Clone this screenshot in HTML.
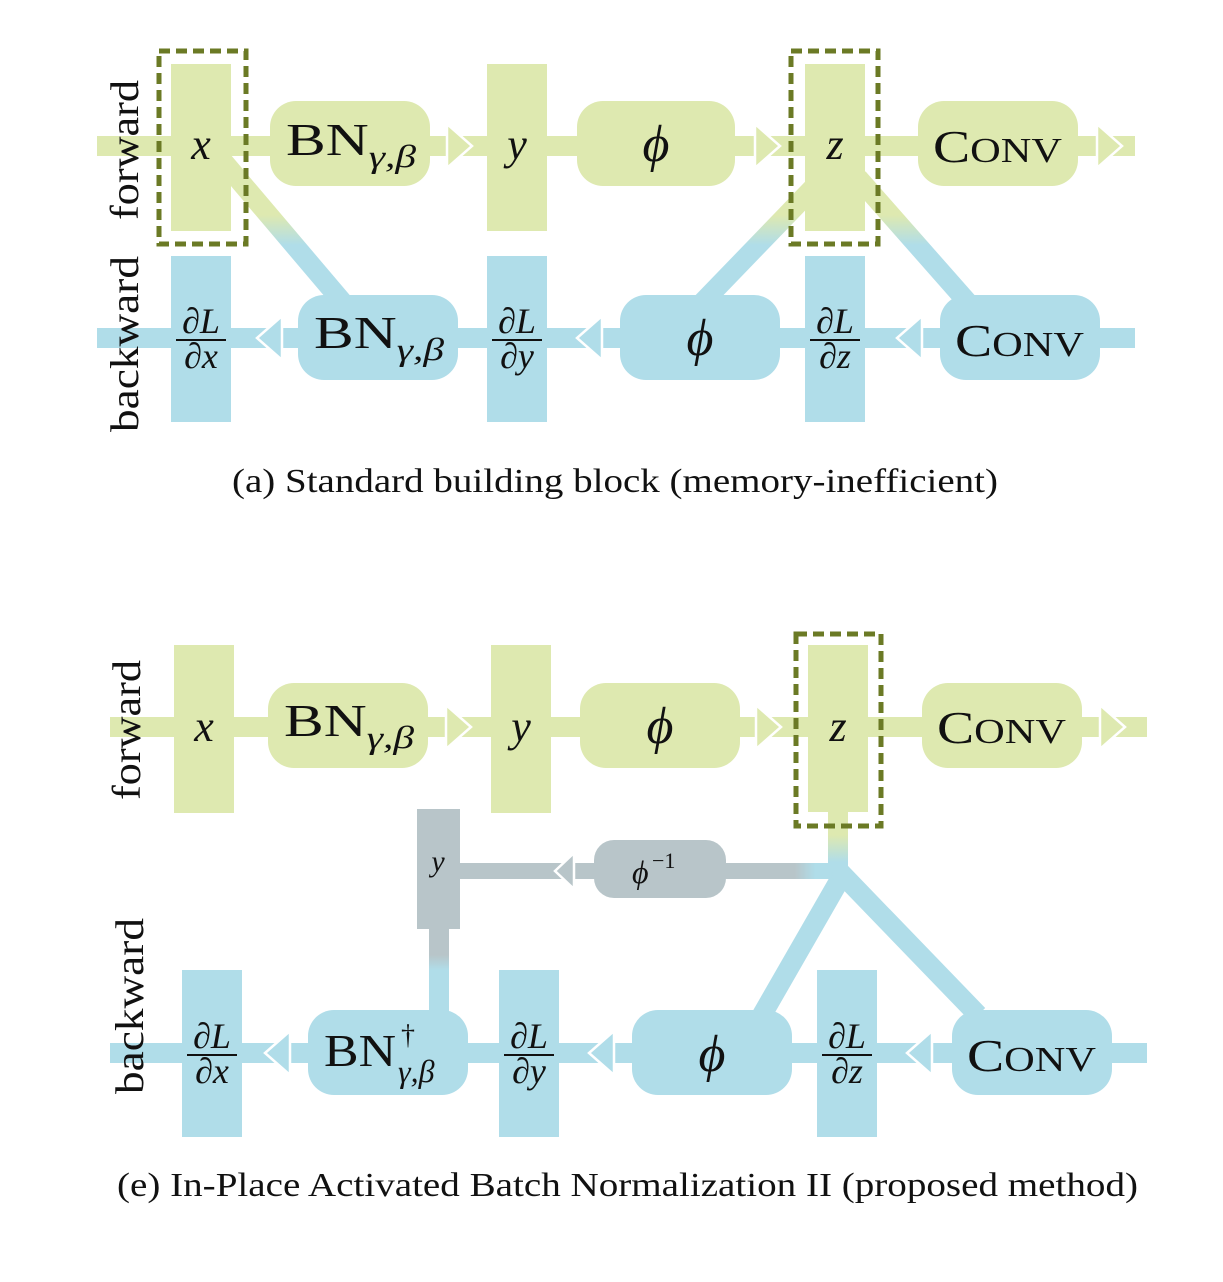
<!DOCTYPE html>
<html><head><meta charset="utf-8"><style>
html,body{margin:0;padding:0;background:#fff}
svg{display:block}
.m{font-family:"Liberation Serif",serif;font-style:italic;fill:#111}
.r{font-family:"Liberation Serif",serif;fill:#111}
</style></head><body>
<svg width="1223" height="1282" viewBox="0 0 1223 1282" xmlns="http://www.w3.org/2000/svg">
<defs>
<linearGradient id="g1" gradientUnits="userSpaceOnUse" x1="0" y1="215" x2="0" y2="245"><stop offset="0" stop-color="#dee9b0"/><stop offset="1" stop-color="#b0dde9"/></linearGradient>
<linearGradient id="g2" gradientUnits="userSpaceOnUse" x1="0" y1="835" x2="0" y2="862"><stop offset="0" stop-color="#dee9b0"/><stop offset="1" stop-color="#b0dde9"/></linearGradient>
<linearGradient id="g3" gradientUnits="userSpaceOnUse" x1="795" y1="0" x2="815" y2="0"><stop offset="0" stop-color="#b8c5c9"/><stop offset="1" stop-color="#b0dde9"/></linearGradient>
<linearGradient id="g4" gradientUnits="userSpaceOnUse" x1="0" y1="955" x2="0" y2="970"><stop offset="0" stop-color="#b8c5c9"/><stop offset="1" stop-color="#b0dde9"/></linearGradient>
</defs>
<g fill="none" stroke-linecap="butt">
<line x1="97" y1="146" x2="1135" y2="146" stroke="#dee9b0" stroke-width="20"/>
<line x1="97" y1="338" x2="1135" y2="338" stroke="#b0dde9" stroke-width="20"/>
<line x1="222" y1="160" x2="345" y2="305" stroke="url(#g1)" stroke-width="20"/>
<line x1="840" y1="160" x2="700" y2="305" stroke="url(#g1)" stroke-width="20"/>
<line x1="858" y1="178" x2="970" y2="305" stroke="url(#g1)" stroke-width="20"/>
<line x1="110" y1="727" x2="1147" y2="727" stroke="#dee9b0" stroke-width="20"/>
<line x1="110" y1="1053" x2="1147" y2="1053" stroke="#b0dde9" stroke-width="20"/>
<line x1="838" y1="812" x2="838" y2="872" stroke="url(#g2)" stroke-width="20"/>
<line x1="440" y1="871" x2="845" y2="871" stroke="url(#g3)" stroke-width="16"/>
<line x1="439" y1="925" x2="439" y2="1015" stroke="url(#g4)" stroke-width="20"/>
<line x1="843" y1="874" x2="762" y2="1015" stroke="#b0dde9" stroke-width="20"/>
<line x1="838" y1="870" x2="978" y2="1015" stroke="#b0dde9" stroke-width="20"/>
</g>
<g fill="#dee9b0">
<rect x="171" y="64" width="60" height="167"/>
<rect x="270" y="101" width="160" height="85" rx="26"/>
<rect x="487" y="64" width="60" height="167"/>
<rect x="577" y="101" width="158" height="85" rx="26"/>
<rect x="805" y="64" width="60" height="167"/>
<rect x="918" y="101" width="160" height="85" rx="26"/>
</g>
<g fill="#dee9b0" stroke="#fff" stroke-width="2.5">
<polygon points="447,124 472,146 447,168"/>
<polygon points="755,124 780,146 755,168"/>
<polygon points="1097,124 1122,146 1097,168"/>
</g>
<g fill="#b0dde9">
<rect x="171" y="256" width="60" height="166"/>
<rect x="298" y="295" width="160" height="85" rx="26"/>
<rect x="487" y="256" width="60" height="166"/>
<rect x="620" y="295" width="160" height="85" rx="26"/>
<rect x="805" y="256" width="60" height="166"/>
<rect x="940" y="295" width="160" height="85" rx="26"/>
</g>
<g fill="#b0dde9" stroke="#fff" stroke-width="2.5">
<polygon points="282,316 257,338 282,360"/>
<polygon points="602,316 577,338 602,360"/>
<polygon points="922,316 897,338 922,360"/>
</g>
<g fill="none" stroke="#6b7a25" stroke-width="5" stroke-dasharray="11,6">
<rect x="159" y="51" width="87" height="193"/>
<rect x="791" y="51" width="87" height="193"/>
</g>
<g fill="#dee9b0">
<rect x="174" y="645" width="60" height="168"/>
<rect x="268" y="683" width="160" height="85" rx="26"/>
<rect x="491" y="645" width="60" height="168"/>
<rect x="580" y="683" width="160" height="85" rx="26"/>
<rect x="808" y="645" width="60" height="167"/>
<rect x="922" y="683" width="160" height="85" rx="26"/>
</g>
<g fill="#dee9b0" stroke="#fff" stroke-width="2.5">
<polygon points="446,705 471,727 446,749"/>
<polygon points="756,705 781,727 756,749"/>
<polygon points="1100,705 1125,727 1100,749"/>
</g>
<g fill="#b8c5c9">
<rect x="417" y="809" width="43" height="120"/>
<rect x="594" y="840" width="132" height="58" rx="20"/>
</g>
<polygon points="574,853 555,871 574,889" fill="#b8c5c9" stroke="#fff" stroke-width="2.5"/>
<g fill="#b0dde9">
<rect x="182" y="970" width="60" height="167"/>
<rect x="308" y="1010" width="160" height="85" rx="26"/>
<rect x="499" y="970" width="60" height="167"/>
<rect x="632" y="1010" width="160" height="85" rx="26"/>
<rect x="817" y="970" width="60" height="167"/>
<rect x="952" y="1010" width="160" height="85" rx="26"/>
</g>
<g fill="#b0dde9" stroke="#fff" stroke-width="2.5">
<polygon points="290,1031 265,1053 290,1075"/>
<polygon points="614,1031 589,1053 614,1075"/>
<polygon points="932,1031 907,1053 932,1075"/>
</g>
<rect x="796" y="634" width="85" height="192" fill="none" stroke="#6b7a25" stroke-width="5" stroke-dasharray="11,6"/>

<text class="r" font-size="40" transform="translate(138,150) rotate(-90)" text-anchor="middle" textLength="140" lengthAdjust="spacingAndGlyphs">forward</text>
<text class="r" font-size="40" transform="translate(138,344) rotate(-90)" text-anchor="middle" textLength="176" lengthAdjust="spacingAndGlyphs">backward</text>
<text class="r" font-size="40" transform="translate(140,730) rotate(-90)" text-anchor="middle" textLength="140" lengthAdjust="spacingAndGlyphs">forward</text>
<text class="r" font-size="40" transform="translate(143,1006) rotate(-90)" text-anchor="middle" textLength="176" lengthAdjust="spacingAndGlyphs">backward</text>

<text class="m" x="201" y="159" font-size="44" text-anchor="middle">x</text>
<text class="r" x="286" y="155" font-size="46" textLength="130" lengthAdjust="spacingAndGlyphs">BN<tspan class="m" font-size="32" dy="12">γ,β</tspan></text>
<text class="m" x="517" y="159" font-size="44" text-anchor="middle">y</text>
<text class="m" x="656" y="161" font-size="52" text-anchor="middle">ϕ</text>
<text class="m" x="835" y="159" font-size="44" text-anchor="middle">z</text>
<text class="r" x="933" y="162" font-size="46" textLength="129" lengthAdjust="spacingAndGlyphs">C<tspan font-size="35">ONV</tspan></text>

<g class="m" font-size="36" text-anchor="middle">
<text x="201" y="333">∂L</text><text x="201" y="368">∂x</text>
<text x="517" y="333">∂L</text><text x="517" y="368">∂y</text>
<text x="835" y="333">∂L</text><text x="835" y="368">∂z</text>
</g>
<g stroke="#111" stroke-width="2"><line x1="176" y1="340" x2="226" y2="340"/><line x1="492" y1="340" x2="542" y2="340"/><line x1="810" y1="340" x2="860" y2="340"/></g>
<text class="r" x="314" y="348" font-size="46" textLength="130" lengthAdjust="spacingAndGlyphs">BN<tspan class="m" font-size="32" dy="12">γ,β</tspan></text>
<text class="m" x="700" y="355" font-size="52" text-anchor="middle">ϕ</text>
<text class="r" x="955" y="356" font-size="46" textLength="129" lengthAdjust="spacingAndGlyphs">C<tspan font-size="35">ONV</tspan></text>

<text class="r" x="232" y="492" font-size="34" textLength="766" lengthAdjust="spacingAndGlyphs">(a)  Standard building block (memory-inefficient)</text>

<text class="m" x="204" y="741" font-size="44" text-anchor="middle">x</text>
<text class="r" x="284" y="736" font-size="46" textLength="130" lengthAdjust="spacingAndGlyphs">BN<tspan class="m" font-size="32" dy="12">γ,β</tspan></text>
<text class="m" x="521" y="741" font-size="44" text-anchor="middle">y</text>
<text class="m" x="660" y="743" font-size="52" text-anchor="middle">ϕ</text>
<text class="m" x="838" y="741" font-size="44" text-anchor="middle">z</text>
<text class="r" x="937" y="743" font-size="46" textLength="129" lengthAdjust="spacingAndGlyphs">C<tspan font-size="35">ONV</tspan></text>

<text class="m" x="438" y="871" font-size="30" text-anchor="middle">y</text>
<text class="m" x="632" y="883" font-size="32">ϕ</text><text class="r" x="652" y="868" font-size="22">−1</text>

<g class="m" font-size="36" text-anchor="middle">
<text x="212" y="1048">∂L</text><text x="212" y="1083">∂x</text>
<text x="529" y="1048">∂L</text><text x="529" y="1083">∂y</text>
<text x="847" y="1048">∂L</text><text x="847" y="1083">∂z</text>
</g>
<g stroke="#111" stroke-width="2"><line x1="187" y1="1055" x2="237" y2="1055"/><line x1="504" y1="1055" x2="554" y2="1055"/><line x1="822" y1="1055" x2="872" y2="1055"/></g>
<text class="r" x="324" y="1066" font-size="46" textLength="72" lengthAdjust="spacingAndGlyphs">BN</text>
<text class="r" x="401" y="1044" font-size="28">†</text>
<text class="m" x="398" y="1082" font-size="32">γ,β</text>
<text class="m" x="712" y="1071" font-size="52" text-anchor="middle">ϕ</text>
<text class="r" x="967" y="1071" font-size="46" textLength="129" lengthAdjust="spacingAndGlyphs">C<tspan font-size="35">ONV</tspan></text>

<text class="r" x="117" y="1196" font-size="34" textLength="1021" lengthAdjust="spacingAndGlyphs">(e)  In-Place Activated Batch Normalization II (proposed method)</text>
</svg>
</body></html>
